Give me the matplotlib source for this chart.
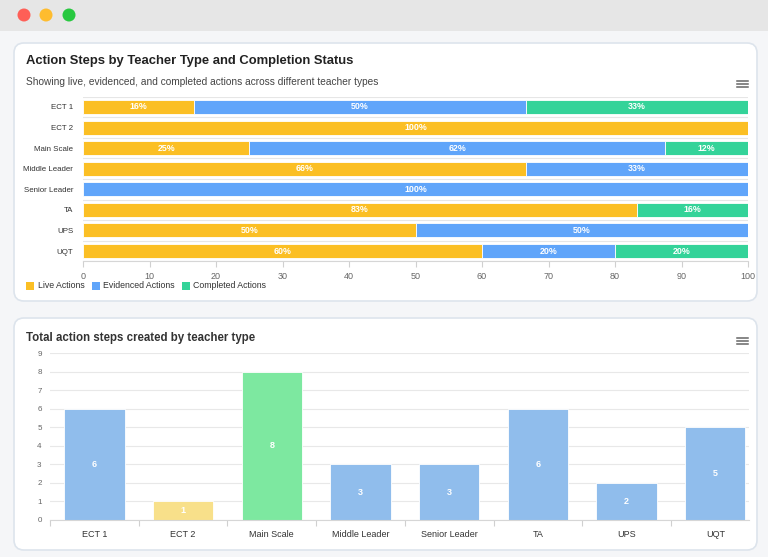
import numpy as np
import matplotlib
matplotlib.use("Agg")
import matplotlib.pyplot as plt
from matplotlib.patches import FancyBboxPatch, Rectangle, Circle
from matplotlib.transforms import IdentityTransform

plt.rcParams['font.family'] = ['Liberation Sans', 'DejaVu Sans']

# data
teacher_types = ["ECT 1", "ECT 2", "Main Scale", "Middle Leader", "Senior Leader", "TA", "UPS", "UQT"]
live_pct = [16.67, 100, 25, 66.67, 0, 83.33, 50, 60]
evidenced_pct = [50, 0, 62.5, 33.33, 100, 0, 50, 20]
completed_pct = [33.33, 0, 12.5, 0, 0, 16.67, 0, 20]
series_names = ["Live Actions", "Evidenced Actions", "Completed Actions"]
series_colors = ["#fbbf24", "#60a5fa", "#34d399"]

total_steps = [6, 1, 8, 3, 3, 6, 2, 5]
total_colors = ["#90bdec", "#f8e08a", "#7de8a0", "#90bdec", "#90bdec", "#90bdec", "#90bdec", "#90bdec"]

W, H = 768, 557
fig = plt.figure(figsize=(W / 100, H / 100), dpi=100)
fig.patch.set_facecolor("#f5f6f8")
ident = IdentityTransform()


def rect(l, t, r, b):
    return [l / W, 1 - b / H, (r - l) / W, (b - t) / H]


def fy(y):
    return 1 - y / H


# window bar
fig.add_artist(Rectangle((0, H - 31), W, 31, transform=ident, facecolor="#e6e6e6", edgecolor="none", zorder=-5))
for cx, col in zip([24, 46, 69], ["#fe5f57", "#febc2e", "#28c840"]):
    fig.add_artist(Circle((cx, H - 15), 6.5, transform=ident, facecolor=col, edgecolor="none", zorder=-4))

# cards
for top, bot in [(43, 301), (318, 550)]:
    fig.add_artist(FancyBboxPatch((14, H - bot), 743, bot - top, boxstyle="round,pad=0,rounding_size=10",
                                  transform=ident, facecolor="white", edgecolor="#dde4ec", linewidth=1.2,
                                  zorder=-5))


def hamburger(yc):
    for dy in (-3, 0, 3):
        fig.add_artist(plt.Line2D([737 / W, 748 / W], [fy(yc + dy), fy(yc + dy)], color="#666666", lw=1.1))


# ---------- top chart ----------
fig.text(26 / W, fy(61), "Action Steps by Teacher Type and Completion Status", fontsize=9.4,
         fontweight="bold", color="#222222", va="center", ha="left")
fig.text(26 / W, fy(82.5), "Showing live, evidenced, and completed actions across different teacher types",
         fontsize=7.25, color="#444444", va="center", ha="left")
hamburger(84)

ax1 = fig.add_axes(rect(83, 96.7, 748, 261.3))
ax1.patch.set_alpha(0)
y = np.arange(len(teacher_types))
left = np.zeros(len(teacher_types))
for name, vals, col in zip(series_names, [live_pct, evidenced_pct, completed_pct], series_colors):
    vals = np.array(vals, dtype=float)
    bars = ax1.barh(y, vals, left=left, height=0.68, color=col, edgecolor="white", linewidth=0.6, label=name)
    for b, v in zip(bars, vals):
        if v > 0:
            ax1.text(b.get_x() + b.get_width() / 2, b.get_y() + b.get_height() / 2, f"{int(v)}%",
                     ha="center", va="center", color="white", fontsize=6.4, fontweight="bold")
    left += vals
ax1.set_yticks(y)
ax1.set_yticklabels(teacher_types, fontsize=5.7, color="#333333")
ax1.set_xticks(np.arange(0, 101, 10))
ax1.set_ylim(len(teacher_types) - 0.5, -0.5)
ax1.set_xlim(0, 100)
ax1.tick_params(axis="x", labelsize=6.5, colors="#666666", length=4, width=0.8, color="#d0d0d0", pad=3.5)
ax1.tick_params(axis="y", length=0, pad=7)
for b in np.arange(-0.5, len(teacher_types), 1):
    ax1.axhline(b, color="#e6e6e6", lw=0.8, zorder=0)
for s in ["top", "right", "left"]:
    ax1.spines[s].set_visible(False)
ax1.spines["bottom"].set_color("#d6d6d6")

# legend
lx = [26, 92, 182]
tx = [37.5, 103, 193]
for name, col, sx, txx in zip(series_names, series_colors, lx, tx):
    fig.add_artist(Rectangle((sx, H - 290), 8, 8, transform=ident, facecolor=col, edgecolor="none"))
    fig.text(txx / W, fy(286), name, fontsize=6.3, color="#333333", va="center", ha="left")

# ---------- bottom chart ----------
fig.text(26 / W, fy(338), "Total action steps created by teacher type", fontsize=8.3,
         fontweight="bold", color="#333333", va="center", ha="left")
hamburger(341)

ax2 = fig.add_axes(rect(50, 353, 749, 520))
ax2.patch.set_alpha(0)
x = np.arange(len(teacher_types))
bars = ax2.bar(x, total_steps, width=0.68, color=total_colors, edgecolor="white", linewidth=0.6, zorder=2)
for b, v in zip(bars, total_steps):
    ax2.text(b.get_x() + b.get_width() / 2, v / 2, str(v), ha="center", va="center",
             color="white", fontsize=6.5, fontweight="bold", zorder=3)
ax2.set_yticks(range(0, 10))
ax2.yaxis.grid(True, color="#e8e8e8", lw=0.8, zorder=0)
ax2.set_axisbelow(True)
ax2.set_xticks(x)
ax2.set_xticklabels(teacher_types, fontsize=6.5, color="#333333")
ax2.set_xticks(np.arange(-0.5, 7, 1), minor=True)
ax2.set_xlim(-0.5, 7.38)
ax2.set_ylim(0, 9)
ax2.tick_params(axis="x", which="major", length=0, pad=7)
ax2.tick_params(axis="x", which="minor", length=4, color="#d0d0d0", width=0.8)
ax2.tick_params(axis="y", length=0, labelsize=5.8, colors="#666666", pad=6)
for s in ["top", "right", "left"]:
    ax2.spines[s].set_visible(False)
ax2.spines["bottom"].set_color("#d6d6d6")

fig.savefig("out.png", dpi=100, facecolor=fig.get_facecolor())
